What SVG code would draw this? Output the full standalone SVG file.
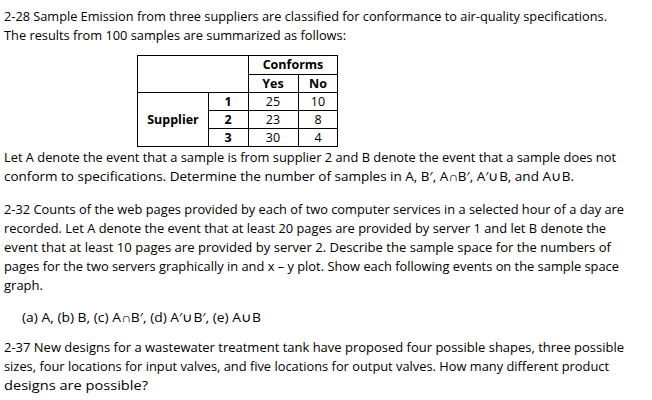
<svg xmlns="http://www.w3.org/2000/svg" width="652" height="400" viewBox="0 0 652 400">
<style>
text{font-family:"Open Sans","Liberation Sans",sans-serif;font-size:12.5px;fill:#000}
.b{font-weight:bold}
.c{text-anchor:middle}
line{stroke:#000;stroke-width:1}
</style>
<rect width="652" height="400" fill="#fff"/>
<g id="text1">
<text x="4" y="21" textLength="603" lengthAdjust="spacingAndGlyphs">2-28 Sample Emission from three suppliers are classified for conformance to air-quality specifications.</text>
<text x="4" y="40" textLength="342" lengthAdjust="spacingAndGlyphs">The results from 100 samples are summarized as follows:</text>
</g>
<g id="table">
<rect x="137.5" y="55.5" width="200" height="91" fill="none" stroke="#000"/>
<line x1="248.5" y1="55" x2="248.5" y2="147"/>
<line x1="208.5" y1="92" x2="208.5" y2="147"/>
<line x1="298.5" y1="74" x2="298.5" y2="147"/>
<line x1="248" y1="74.5" x2="337" y2="74.5"/>
<line x1="137" y1="92.5" x2="337" y2="92.5"/>
<line x1="208" y1="110.5" x2="337" y2="110.5"/>
<line x1="208" y1="128.5" x2="337" y2="128.5"/>
<text class="b c" x="293" y="69">Conforms</text>
<text class="b c" x="273" y="88">Yes</text>
<text class="b c" x="318" y="88">No</text>
<text class="b c" x="173" y="124">Supplier</text>
<text class="b c" x="228" y="106">1</text>
<text class="b c" x="228" y="124">2</text>
<text class="b c" x="228" y="142">3</text>
<text class="c" x="273" y="106">25</text><text class="c" x="318" y="106">10</text>
<text class="c" x="273" y="124">23</text><text class="c" x="318" y="124">8</text>
<text class="c" x="273" y="142">30</text><text class="c" x="318" y="142">4</text>
</g>
<g id="text2">
<text x="4" y="162" textLength="612" lengthAdjust="spacingAndGlyphs">Let A denote the event that a sample is from supplier 2 and B denote the event that a sample does not</text>
<text x="4" y="181" textLength="570" lengthAdjust="spacingAndGlyphs">conform to specifications. Determine the number of samples in A, B′, A∩B′, A′∪B, and A∪B.</text>
<text x="4" y="214" textLength="620" lengthAdjust="spacingAndGlyphs">2-32 Counts of the web pages provided by each of two computer services in a selected hour of a day are</text>
<text x="4" y="233" textLength="602" lengthAdjust="spacingAndGlyphs">recorded. Let A denote the event that at least 20 pages are provided by server 1 and let B denote the</text>
<text x="4" y="252" textLength="607" lengthAdjust="spacingAndGlyphs">event that at least 10 pages are provided by server 2. Describe the sample space for the numbers of</text>
<text x="4" y="271" textLength="615" lengthAdjust="spacingAndGlyphs">pages for the two servers graphically in and x – y plot. Show each following events on the sample space</text>
<text x="4" y="290" textLength="39" lengthAdjust="spacingAndGlyphs">graph.</text>
<text x="22" y="322" textLength="239" lengthAdjust="spacingAndGlyphs">(a)  A, (b) B, (c) A∩B′, (d) A′∪B′, (e) A∪B</text>
<text x="4" y="352" textLength="620" lengthAdjust="spacingAndGlyphs">2-37 New designs for a wastewater treatment tank have proposed four possible shapes, three possible</text>
<text x="4" y="371" textLength="605" lengthAdjust="spacingAndGlyphs">sizes, four locations for input valves, and five locations for output valves. How many different product</text>
<text x="4" y="390" textLength="144" lengthAdjust="spacingAndGlyphs">designs are possible?</text>
</g>
</svg>
